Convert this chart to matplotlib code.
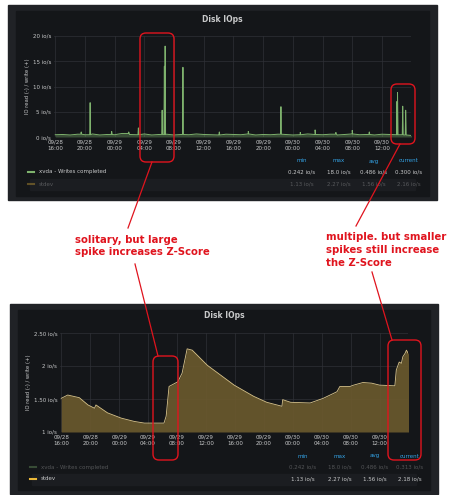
import numpy as np
import pandas as pd
import matplotlib
matplotlib.use('Agg')
import matplotlib.pyplot as plt
import matplotlib.dates as mdates
from matplotlib.patches import FancyBboxPatch, Rectangle
from matplotlib.lines import Line2D

W, H = 474, 495
start = pd.Timestamp('2019-09-28 16:00')

# top panel: writes completed (hourly baseline + spikes)
base_vals = [0.45, 0.5, 0.4, 0.55, 0.45, 0.6, 0.4, 0.5, 0.45, 0.7, 0.5, 0.45, 0.6, 0.4, 0.5, 0.55,
             0.4, 0.5, 0.45, 0.6, 0.5, 0.45, 0.4, 0.55, 0.5, 0.45, 0.6, 0.4, 0.5, 0.45, 0.55, 0.5,
             0.4, 0.45, 0.6, 0.5, 0.45, 0.55, 0.4, 0.5, 0.6, 0.45, 0.5, 0.4, 0.55, 0.5, 0.45, 0.4, 0.3]
spike_hours = [3.5, 4.7, 7.6, 9.9, 11.2, 14.4, 14.7, 14.8, 17.2, 22.1, 26.0, 30.4, 33.0, 35.0, 37.8, 40.0,
               42.3, 46.0, 46.1, 46.8, 47.2]
spike_vals = [1.0, 6.8, 1.1, 1.0, 1.8, 5.3, 14.0, 18.0, 13.8, 1.0, 1.1, 6.0, 0.9, 1.4, 0.9, 1.3,
              1.0, 7.0, 8.8, 6.1, 5.3]

# bottom panel: stdev
sd_hours = [0, 0.9, 2.5, 3.7, 4.6, 4.8, 6.4, 8.3, 10.1, 11.5, 14.2, 14.5, 14.9, 16.1, 16.7, 17.4, 18.1,
            20.2, 23.9, 26.6, 28.4, 30.5, 30.6, 31.7, 34.4, 36.2, 38.1, 38.5, 39.9, 40.4, 41.7, 42.9,
            44.0, 46.1, 46.3, 46.7, 47.0, 47.2, 47.5, 47.7, 48.0]
sd_vals = [1.51, 1.56, 1.52, 1.41, 1.36, 1.41, 1.29, 1.21, 1.16, 1.135, 1.135, 1.24, 1.69, 1.76, 1.89,
           2.26, 2.24, 2.01, 1.71, 1.54, 1.45, 1.39, 1.49, 1.45, 1.44, 1.51, 1.61, 1.69, 1.69, 1.71,
           1.75, 1.74, 1.71, 1.70, 1.94, 2.06, 2.04, 2.14, 2.19, 2.24, 2.18]

legend_rows = [['xvda - Writes completed', '0.242 io/s', '18.0 io/s', '0.486 io/s'],
               ['stdev', '1.13 io/s', '2.27 io/s', '1.56 io/s']]
top_current = ['0.300 io/s', '2.16 io/s']
bot_current = ['0.313 io/s', '2.18 io/s']

BG = '#141619'
TXT = '#c8c9ca'
GREEN = '#7eb26d'
YEL = '#eab839'
RED = '#e0141e'

fig = plt.figure(figsize=(W / 100, H / 100), dpi=100, facecolor='white')


def box(x0, y0, x1, y1):
    return [x0 / W, 1 - y1 / H, (x1 - x0) / W, (y1 - y0) / H]


def fx(x):
    return x / W


def fy(y):
    return 1 - y / H


def panel(px0, py0, px1, py1, ax_rect, title_y, legend_y, current, dim_row):
    fig.patches.append(Rectangle((fx(px0), fy(py1)), fx(px1 - px0), (py1 - py0) / H,
                                 transform=fig.transFigure, color='#202226', zorder=-2))
    fig.patches.append(Rectangle((fx(px0 + 8), fy(py1 - 4)), fx(px1 - px0 - 16), (py1 - py0 - 10) / H,
                                 transform=fig.transFigure, color=BG, zorder=-1))
    fig.text(fx((px0 + px1) / 2), fy(title_y), 'Disk IOps', color=TXT, fontsize=5.5,
             ha='center', va='center', weight='bold')
    ax = fig.add_axes(box(*ax_rect), zorder=2)
    ax.set_facecolor(BG)
    for s in ax.spines.values():
        s.set_visible(False)
    ax.grid(True, color='#2f3136', linewidth=0.5)
    ax.set_axisbelow(True)
    ax.tick_params(colors=TXT, labelsize=4, length=0, pad=2)
    ax.xaxis.set_major_locator(mdates.HourLocator(byhour=range(0, 24, 4)))
    ax.xaxis.set_major_formatter(mdates.DateFormatter('%m/%d\n%H:%M'))
    ax.set_xlim(start - pd.Timedelta(minutes=10), start + pd.Timedelta(hours=47, minutes=55))
    ax.set_ylabel('IO read (-) / write (+)', color=TXT, fontsize=3.8, labelpad=2)
    # legend
    hy = legend_y
    cols = [px1 - 135, px1 - 98, px1 - 63, px1 - 28]
    for c, t in zip(cols, ['min', 'max', 'avg', 'current']):
        fig.text(fx(c), fy(hy), t, color='#33a2e5', fontsize=4, ha='center', va='center')
    fig.patches.append(Rectangle((fx(px0 + 22), fy(hy + 29)), fx(px1 - px0 - 44), 11 / H,
                                 transform=fig.transFigure, color='#1b1d21', zorder=0))
    for i, (row, col) in enumerate(zip(legend_rows, [GREEN, YEL])):
        y = hy + 11 + i * 12
        a = 0.35 if i == dim_row else 1.0
        fig.lines.append(Line2D([fx(px0 + 20), fx(px0 + 26)], [fy(y), fy(y)], color=col,
                                linewidth=1.5, alpha=a, transform=fig.transFigure))
        fig.text(fx(px0 + 31), fy(y), row[0], color=TXT, fontsize=4, va='center', alpha=a)
        for c, t in zip(cols, row[1:] + [current[i]]):
            fig.text(fx(c), fy(y), t, color=TXT, fontsize=4, ha='center', va='center', alpha=a)
    return ax


# top panel
ax1 = panel(8, 5, 437, 200, (54, 36, 411, 137), 20, 161, top_current, 1)
pts = [(h, v) for h, v in enumerate(base_vals)]
for h, v in zip(spike_hours, spike_vals):
    b = base_vals[int(h)]
    pts += [(h - 0.06, b), (h, v), (h + 0.06, b)]
pts.sort()
t1 = [start + pd.Timedelta(hours=h) for h, _ in pts]
v1 = [v for _, v in pts]
ax1.fill_between(t1, 0, v1, color=GREEN, alpha=0.35, linewidth=0)
ax1.plot(t1, v1, color=GREEN, linewidth=0.7)
ax1.set_ylim(0, 20)
ax1.set_yticks([0, 5, 10, 15, 20])
ax1.set_yticklabels(['0 io/s', '5 io/s', '10 io/s', '15 io/s', '20 io/s'])

# bottom panel
ax2 = panel(10, 304, 438, 494, (60, 333, 408, 432), 316, 456, bot_current, 0)
t2 = [start + pd.Timedelta(hours=h) for h in sd_hours]
ax2.fill_between(t2, 1, sd_vals, color='#6b5a2e', alpha=0.9, linewidth=0)
ax2.plot(t2, sd_vals, color='#d9c48a', linewidth=0.6)
ax2.set_ylim(1, 2.5)
ax2.set_yticks([1, 1.5, 2, 2.5])
ax2.set_yticklabels(['1 io/s', '1.50 io/s', '2 io/s', '2.50 io/s'])

# annotation boxes and lines (overlay axes so they sit above the panels)
over = fig.add_axes([0, 0, 1, 1], zorder=5)
over.set_xlim(0, W)
over.set_ylim(H, 0)
over.axis('off')
for x0, y0, x1, y1 in [(140, 33, 174, 162), (391, 84, 415, 144), (153, 356, 178, 460), (388, 340, 421, 460)]:
    over.add_patch(FancyBboxPatch((x0, y0), x1 - x0, y1 - y0, boxstyle='round,pad=0,rounding_size=6',
                                  fill=False, edgecolor=RED, linewidth=1))
for (xa, ya), (xb, yb) in [((152, 162), (128, 228)), ((400, 144), (356, 226)),
                           ((135, 264), (158, 356)), ((372, 272), (392, 340))]:
    over.plot([xa, xb], [ya, yb], color=RED, linewidth=0.9)

over.text(75, 246, 'solitary, but large\nspike increases Z-Score', color=RED, fontsize=7.3,
          weight='bold', va='center', ha='left', linespacing=1.35)
over.text(326, 250, 'multiple. but smaller\nspikes still increase\nthe Z-Score', color=RED,
          fontsize=7.3, weight='bold', va='center', ha='left', linespacing=1.35)

fig.savefig('out.png', dpi=100, facecolor='white')
